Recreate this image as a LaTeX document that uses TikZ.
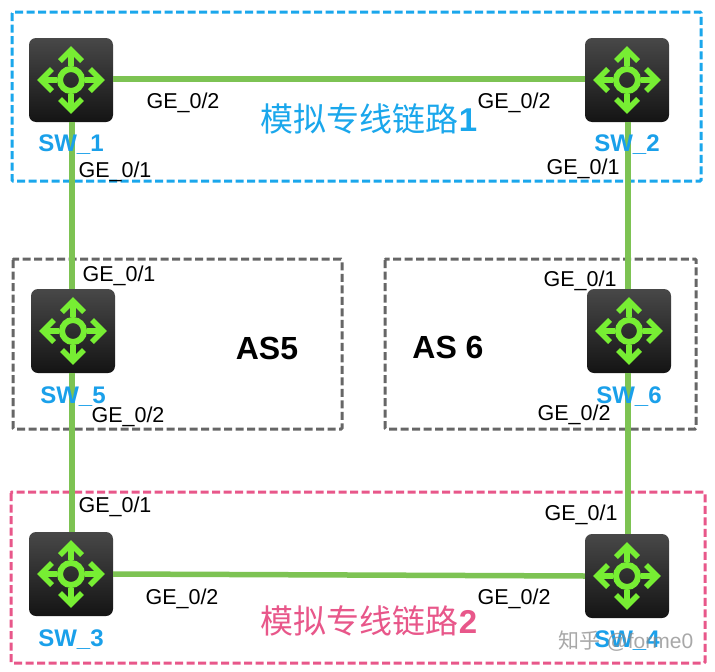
\documentclass[tikz,border=0pt]{standalone}
\usepackage{fontspec}
\setmainfont{Liberation Sans}
\newfontfamily\cjk{Noto Sans CJK SC}
\usetikzlibrary{backgrounds}
\definecolor{bluedash}{HTML}{1AA7EC}
\definecolor{pinkdash}{HTML}{E8578A}
\definecolor{graydash}{HTML}{666666}
\definecolor{linkgreen}{HTML}{7DC353}
\definecolor{icongreen}{HTML}{77EE33}
\definecolor{swtop}{HTML}{484848}
\definecolor{swbot}{HTML}{141414}
\definecolor{swlabel}{HTML}{1AA0EA}
\tikzset{
  x=1pt,y=-1pt,
  swbox/.style={minimum size=84pt,inner sep=0pt,rounded corners=7pt,top color=swtop,bottom color=swbot,draw=none},
  link/.style={draw=linkgreen,line width=5.5pt},
  zone/.style={line width=3pt,dash pattern=on 8pt off 3.5pt,rounded corners=1pt},
  port/.style={font=\fontsize{21.5}{24}\selectfont,text height=15.5pt,text depth=3.5pt,inner sep=0pt},
  swname/.style={font=\fontsize{24}{26}\selectfont\bfseries,text=swlabel,text height=17pt,text depth=3.5pt,inner sep=0pt},
  astext/.style={font=\fontsize{32}{36}\selectfont\bfseries,inner sep=0pt},
  title/.style={font=\fontsize{33}{36}\selectfont,inner sep=0pt},
}
\newcommand{\swicon}[1]{%
  \begin{scope}[shift={(#1.center)}]
    \draw[icongreen,line width=6pt] (0,0) circle (11pt);
    \foreach \r in {0,90,180,270}{
      \begin{scope}[rotate=\r]
        \draw[icongreen,line width=5.5pt,miter limit=10] (14,0) -- (29,0);
        \draw[icongreen,line width=5.5pt,miter limit=10] (19,-11) -- (30,0) -- (19,11);
      \end{scope}
    }
  \end{scope}}
\begin{document}
\begin{tikzpicture}
\useasboundingbox[fill=white] (0,0) rectangle (715,672);
% zones
\draw[zone,bluedash] (12,12) rectangle (701,181);
\draw[zone,graydash] (13,259) rectangle (342,429);
\draw[zone,graydash] (385,259) rectangle (696,429);
\draw[zone,pinkdash] (11,492) rectangle (705,663);
% switches
\node[swbox] (sw1) at (71,80) {};
\node[swbox] (sw2) at (627,80) {};
\node[swbox] (sw5) at (73,331) {};
\node[swbox] (sw6) at (629,331) {};
\node[swbox] (sw3) at (71,574) {};
\node[swbox] (sw4) at (627,576) {};
\swicon{sw1}\swicon{sw2}\swicon{sw5}\swicon{sw6}\swicon{sw3}\swicon{sw4}
% links
\draw[link] ([yshift=1pt]sw1.east) -- ([yshift=1pt]sw2.west);
\draw[link] (sw3.east) -- (sw4.west);
\draw[link] ([xshift=1pt]sw1.south) -- ([xshift=-1pt]sw5.north);
\draw[link] ([xshift=1pt]sw2.south) -- ([xshift=-1pt]sw6.north);
\draw[link] ([xshift=-1pt]sw5.south) -- ([xshift=1pt]sw3.north);
\draw[link] ([xshift=-1pt]sw6.south) -- ([xshift=1pt]sw4.north);
% switch names
\node[swname] (n1) at (71,145) {SW\_1};
\node[swname] (n2) at (627,145) {SW\_2};
\node[swname] (n5) at (73,397) {SW\_5};
\node[swname] (n6) at (629,397) {SW\_6};
\node[swname] (n3) at (71,640) {SW\_3};
\node[swname] (n4) at (627,641) {SW\_4};
% ports
\node[port] (p1) at (183,102) {GE\_0/2};
\node[port] (p2) at (514,102) {GE\_0/2};
\node[port] (p3) at (115,171) {GE\_0/1};
\node[port] (p4) at (583,168) {GE\_0/1};
\node[port] (p5) at (119,275) {GE\_0/1};
\node[port] (p6) at (580,280) {GE\_0/1};
\node[port] (p7) at (128,416) {GE\_0/2};
\node[port] (p8) at (574,414) {GE\_0/2};
\node[port] (p9) at (115,506) {GE\_0/1};
\node[port] (p10) at (581,514) {GE\_0/1};
\node[port] (p11) at (182,598) {GE\_0/2};
\node[port] (p12) at (514,598) {GE\_0/2};
% titles
\node[title,text=bluedash] (t1) at (369,119) {{\cjk 模拟专线链路}\textbf{1}};
\node[title,text=pinkdash] (t2) at (369,621) {{\cjk 模拟专线链路}\textbf{2}};
\node[astext] (as5) at (267,348) {AS5};
\node[astext] (as6) at (448,347) {AS 6};
% watermark
\node[inner sep=0pt,text=black!45,opacity=.75,font=\fontsize{21}{24}\selectfont] (wm) at (626,641) {{\cjk 知乎} @forme0};
\end{tikzpicture}
\end{document}
